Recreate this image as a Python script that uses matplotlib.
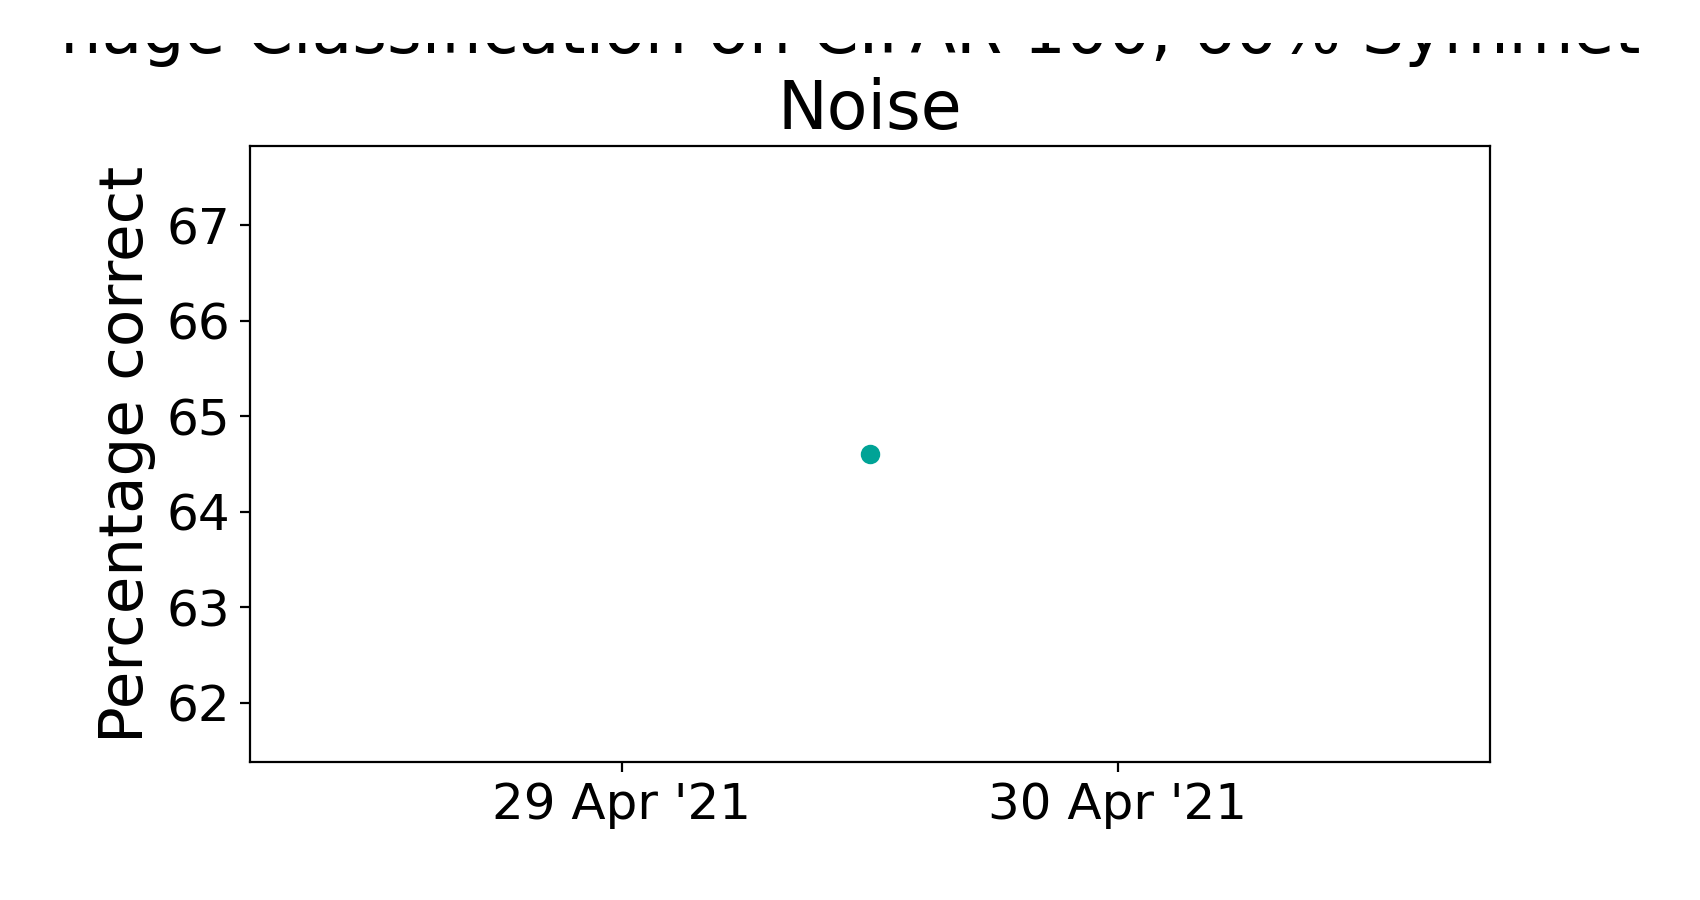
import matplotlib
matplotlib.use("Agg")
import matplotlib.pyplot as plt
import matplotlib.dates as mdates
from matplotlib.transforms import Bbox, TransformedBbox
from datetime import datetime, timedelta

# data
dates = [datetime(2021, 4, 29, 12, 0)]
accuracy = [64.6]

title = "Image Classification on CIFAR-100, 60% Symmetric\nNoise"
ylabel = "Percentage correct"

fig = plt.figure(figsize=(8.5, 4.5), dpi=200)
ax = fig.add_axes([250 / 1700, 1 - 762 / 900, 1240 / 1700, 616 / 900])

ax.plot(dates, accuracy, 'o', color='#00a396', markersize=6)

ax.set_xlim(dates[0] - timedelta(days=1.25), dates[0] + timedelta(days=1.25))
ax.set_ylim(61.38, 67.83)

ax.xaxis.set_major_locator(mdates.DayLocator())
ax.xaxis.set_major_formatter(mdates.DateFormatter("%d %b '%y"))
ax.set_yticks([62, 63, 64, 65, 66, 67])

ax.tick_params(labelsize=18)
ax.set_ylabel(ylabel, fontsize=22)
t = ax.set_title(title, fontsize=24)

# the first title line runs off the canvas in the original, cut it the same way
clip = Bbox.from_extents(61 / 1700, 0, 1645 / 1700, 1 - 43 / 900)
t.set_clip_box(TransformedBbox(clip, fig.transFigure))
t.set_clip_on(True)

fig.savefig("out.png", dpi=200)
